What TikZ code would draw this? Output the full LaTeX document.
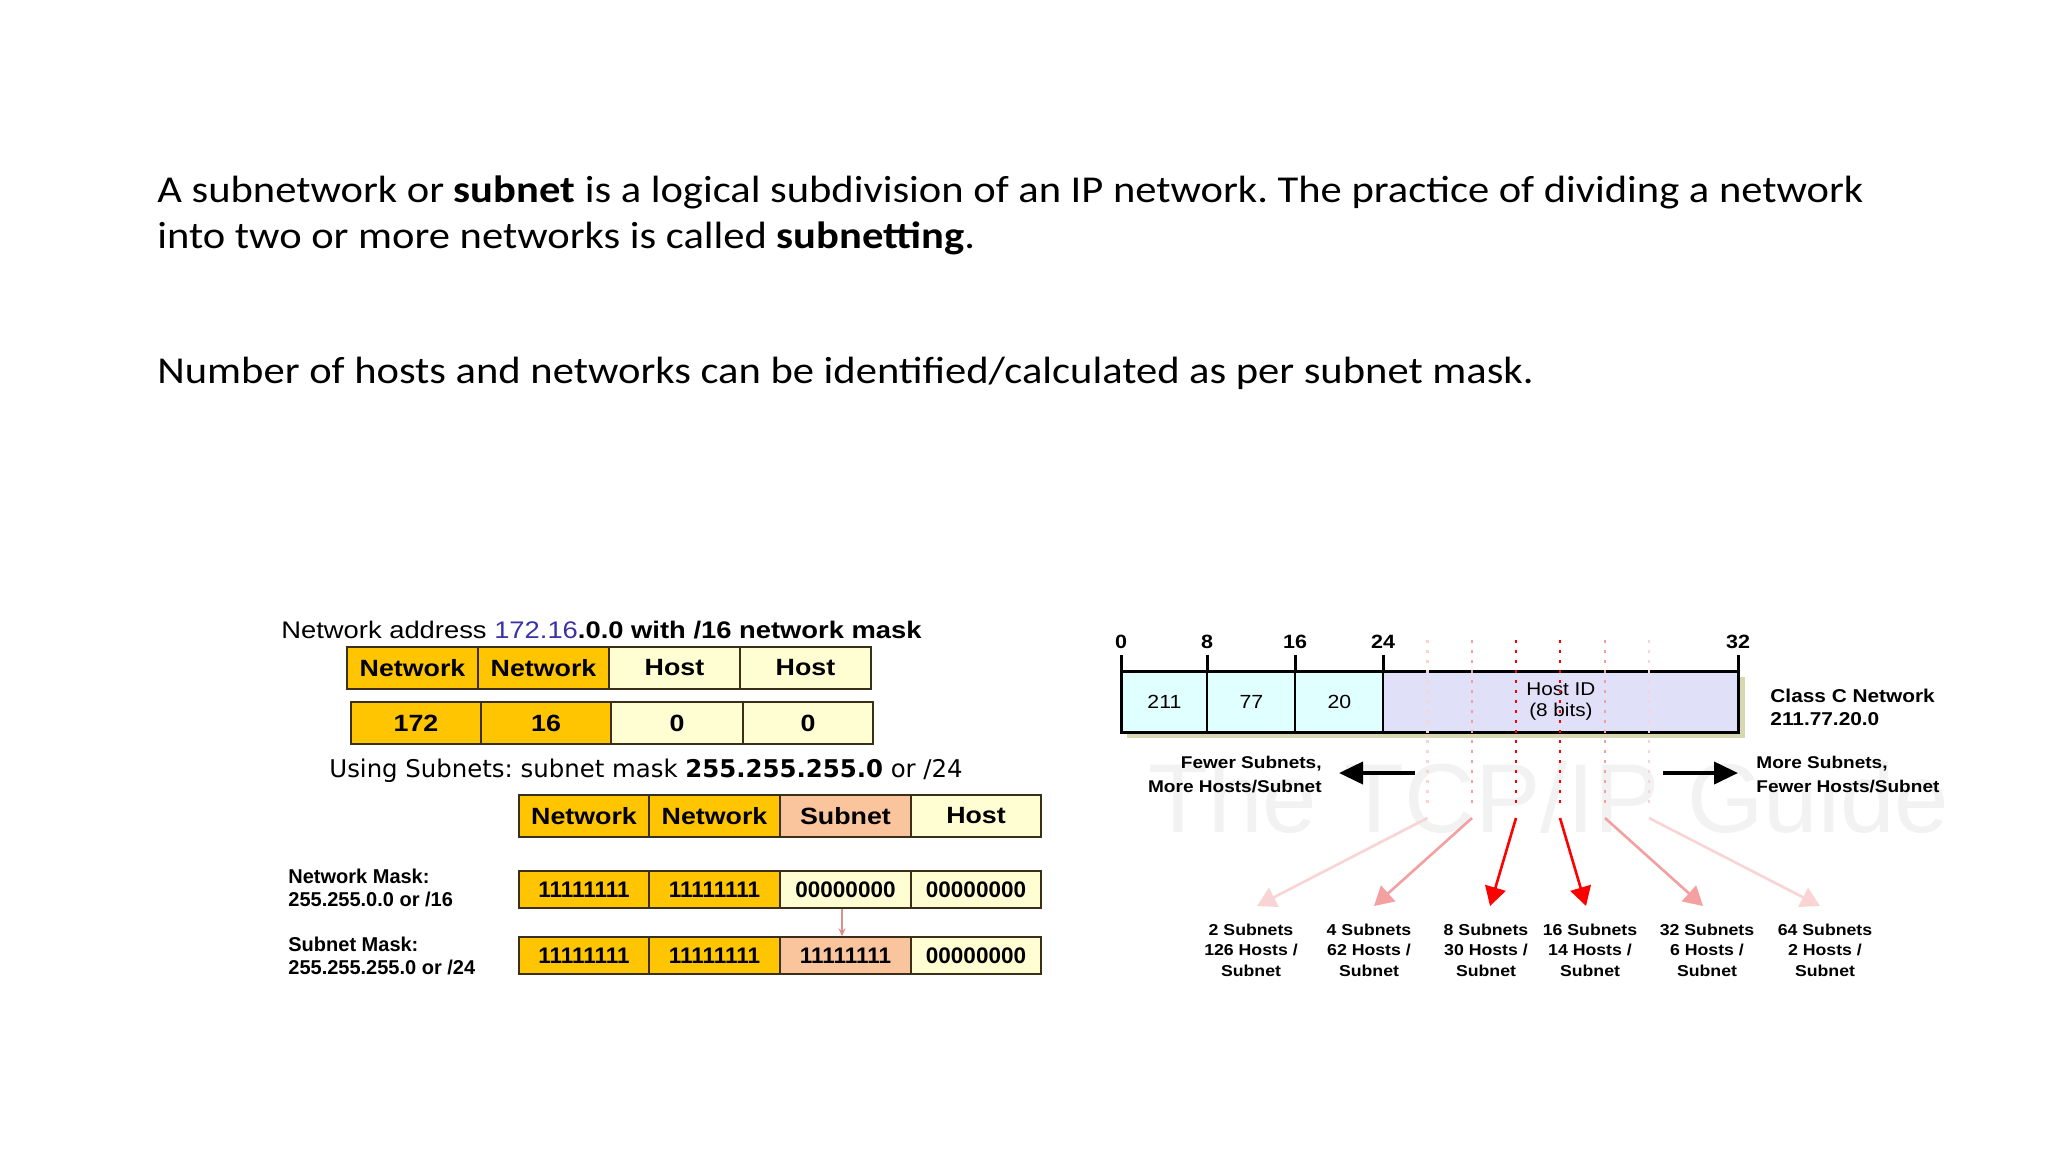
\documentclass[tikz,border=0pt]{standalone}
\usepackage{fontspec}
\setmainfont{Carlito}[FakeStretch=1.12]
\newfontfamily\lsw[FakeStretch=1.14]{Liberation Sans}
\newfontfamily\lsr[FakeStretch=1.12]{Liberation Sans}
\newfontfamily\lsp{Liberation Sans}
\newfontfamily\dvs{DejaVu Sans}
\usetikzlibrary{arrows.meta}
\definecolor{gold}{HTML}{FFC500}
\definecolor{lyel}{HTML}{FFFDD2}
\definecolor{peach}{HTML}{FAC59D}
\definecolor{cyanl}{HTML}{E0FFFF}
\definecolor{lav}{HTML}{E0E0F8}
\definecolor{khaki}{HTML}{D8D8B0}
\definecolor{blueT}{HTML}{3B32A8}
\definecolor{redA}{HTML}{FF0000}
\definecolor{redB}{HTML}{F4A0A0}
\definecolor{redC}{HTML}{FAD4D4}
\definecolor{wm}{HTML}{F2F2F2}
\definecolor{cellline}{HTML}{3C2F1A}
\frenchspacing
\begin{document}
\begin{tikzpicture}[x=0.5pt,y=-0.5pt,
  txt/.style={anchor=base west, inner sep=0pt},
  cellL/.style={draw=cellline, line width=0.75pt, inner sep=0pt, minimum height=21pt,
    font=\lsw\bfseries\fontsize{11.75pt}{14pt}\selectfont, text=black},
  cellM/.style={draw=cellline, line width=0.75pt, inner sep=0pt, minimum height=18.5pt,
    font=\lsp\bfseries\fontsize{11.25pt}{12pt}\selectfont, text=black},
  rcell/.style={inner sep=0pt, minimum height=30.5pt, font=\lsr\fontsize{9.5pt}{11pt}\selectfont},
  tick/.style={line width=1.5pt},
  ticklbl/.style={anchor=base, inner sep=0pt, font=\lsr\bfseries\fontsize{9.6pt}{11pt}\selectfont},
  rlbl/.style={inner sep=0pt, font=\lsr\bfseries\fontsize{8.5pt}{10pt}\selectfont},
  blbl/.style={anchor=base, inner sep=0pt, align=center, font=\lsr\bfseries\fontsize{7.9pt}{10.25pt}\selectfont},
  dotl/.style={line width=1.25pt, dash pattern=on 1.5pt off 3.5pt},
  bigarrow/.style={line width=2pt, -{Triangle[length=12pt,width=11pt]}},
  redarrow/.style={line width=1.3pt, -{Triangle[length=9.5pt,width=10.5pt]}}
]
\useasboundingbox (0,0) rectangle (2048,1152);
\fill[white] (0,0) rectangle (2048,1152);

% watermark
\node[txt, font=\lsp\fontsize{49pt}{58pt}\selectfont, text=wm] (wmark) at (1148,832) {The TCP/IP Guide};

% main text
\node[txt, font=\fontsize{19pt}{23pt}\selectfont] (p1) at (157,202) {A subnetwork or \textbf{subnet} is a logical subdivision of an IP network. The practice of dividing a network};
\node[txt, font=\fontsize{19pt}{23pt}\selectfont] (p2) at (157,248) {into two or more networks is called \textbf{subnetting}.};
\node[txt, font=\fontsize{19pt}{23pt}\selectfont] (p3) at (157,383) {Number of hosts and networks can be identified/calculated as per subnet mask.};

% ---------- left diagram ----------
\node[txt, font=\lsw\fontsize{12pt}{14pt}\selectfont] (title) at (281,638)
  {Network address \textcolor{blueT}{172.16}\textbf{.0.0 with /16 network mask}};

\node[cellL, fill=gold, minimum width=65.5pt] (r1a) at (412.5,668) {Network};
\node[cellL, fill=gold, minimum width=65.5pt] (r1b) at (543.5,668) {Network};
\node[cellL, fill=lyel, minimum width=65.5pt] (r1c) at (674.5,668) {Host};
\node[cellL, fill=lyel, minimum width=65.5pt] (r1d) at (805.5,668) {Host};

\node[cellL, fill=gold, minimum width=65pt] (r2a) at (416,723) {172};
\node[cellL, fill=gold, minimum width=65pt] (r2b) at (546,723) {16};
\node[cellL, fill=lyel, minimum width=66pt] (r2c) at (677,723) {0};
\node[cellL, fill=lyel, minimum width=65pt] (r2d) at (808,723) {0};

\node[txt, font=\dvs\fontsize{12.2pt}{14pt}\selectfont] (using) at (329,777)
  {Using Subnets: subnet mask \textbf{255.255.255.0} or /24};

\node[cellL, fill=gold, minimum width=65pt] (r3a) at (584,816) {Network};
\node[cellL, fill=gold, minimum width=65.5pt] (r3b) at (714.5,816) {Network};
\node[cellL, fill=peach, minimum width=65.5pt] (r3c) at (845.5,816) {Subnet};
\node[cellL, fill=lyel, minimum width=65pt] (r3d) at (976,816) {Host};

\node[txt, align=left, font=\lsp\bfseries\fontsize{10pt}{11.5pt}\selectfont] (nmask) at (288,906) {Network Mask:\\255.255.0.0 or /16};
\node[txt, align=left, font=\lsp\bfseries\fontsize{10pt}{11.5pt}\selectfont] (smask) at (288,974) {Subnet Mask:\\255.255.255.0 or /24};

\node[cellM, fill=gold, minimum width=65pt] (r4a) at (584,889.5) {11111111};
\node[cellM, fill=gold, minimum width=65.5pt] (r4b) at (714.5,889.5) {11111111};
\node[cellM, fill=lyel, minimum width=65.5pt] (r4c) at (845.5,889.5) {00000000};
\node[cellM, fill=lyel, minimum width=65pt] (r4d) at (976,889.5) {00000000};

\node[cellM, fill=gold, minimum width=65pt] (r5a) at (584,955.5) {11111111};
\node[cellM, fill=gold, minimum width=65.5pt] (r5b) at (714.5,955.5) {11111111};
\node[cellM, fill=peach, minimum width=65.5pt] (r5c) at (845.5,955.5) {11111111};
\node[cellM, fill=lyel, minimum width=65pt] (r5d) at (976,955.5) {00000000};

\draw[draw=redB!90!black, line width=0.6pt, -{Stealth[length=4pt,width=3.5pt]}] ([xshift=-1.75pt]r4c.south) -- ([xshift=-1.75pt]r5c.north);

% ---------- right diagram ----------
\fill[khaki] (1127,677) rectangle (1745,738);
\node[rcell, fill=cyanl, minimum width=43pt, anchor=north west] (c0) at (1121,671) {211};
\node[rcell, fill=cyanl, minimum width=44pt, anchor=north west] (c8) at (1207,671) {77};
\node[rcell, fill=cyanl, minimum width=44pt, anchor=north west] (c16) at (1295,671) {20};
\node[rcell, fill=lav, minimum width=177.5pt, anchor=north west, align=center,
      font=\lsr\fontsize{9.25pt}{10.5pt}\selectfont] (c24) at (1383,671) {Host ID\\(8 bits)};
\draw[line width=1.5pt] (1121,671) rectangle (1738,732);
\foreach \xx in {1207,1295,1383} \draw[line width=1.25pt] (\xx,671) -- (\xx,732);

\foreach \xx/\lab/\nm in {1121/0/t0,1207/8/t8,1295/16/t16,1383/24/t24,1738/32/t32}{
  \draw[tick] (\xx,655) -- (\xx,671);
  \node[ticklbl] (\nm) at (\xx,648) {\lab};
}

% dotted bit lines
\draw[dotl, redC] (1427.5,640) -- (1427.5,806);
\draw[dotl, redB] (1472,640) -- (1472,806);
\draw[dotl, redA] (1516,640) -- (1516,806);
\draw[dotl, redA] (1560,640) -- (1560,806);
\draw[dotl, redB] (1605,640) -- (1605,806);
\draw[dotl, redC] (1649,640) -- (1649,806);

\node[txt, font=\lsr\bfseries\fontsize{9.3pt}{11pt}\selectfont] (classc) at (1770,702) {Class C Network};
\node[txt, font=\lsr\bfseries\fontsize{9.3pt}{11pt}\selectfont] (classip) at (1770,725) {211.77.20.0};

\node[rlbl, anchor=base east] (fewer1) at (1322,768) {Fewer Subnets,};
\node[rlbl, anchor=base east] (fewer2) at (1322,792) {More Hosts/Subnet};
\node[rlbl, anchor=base west] (more1) at (1756,768) {More Subnets,};
\node[rlbl, anchor=base west] (more2) at (1756,792) {Fewer Hosts/Subnet};

\coordinate (la) at (1415,773);
\coordinate (lb) at (1339,773);
\coordinate (ra) at (1663,773);
\coordinate (rb) at (1738,773);
\draw[bigarrow] (la) -- (lb);
\draw[bigarrow] (ra) -- (rb);

% arrows to results
\coordinate (s1) at (1427.5,818); \coordinate (e1) at (1257,906);
\coordinate (s2) at (1472,818);   \coordinate (e2) at (1374,906);
\coordinate (s3) at (1516,818);   \coordinate (e3) at (1490,906);
\coordinate (s4) at (1560,818);   \coordinate (e4) at (1586,906);
\coordinate (s5) at (1605,818);   \coordinate (e5) at (1703,906);
\coordinate (s6) at (1649,818);   \coordinate (e6) at (1820,906);
\draw[redarrow, redC] (s1) -- (e1);
\draw[redarrow, redB] (s2) -- (e2);
\draw[redarrow, redA] (s3) -- (e3);
\draw[redarrow, redA] (s4) -- (e4);
\draw[redarrow, redB] (s5) -- (e5);
\draw[redarrow, redC] (s6) -- (e6);

\node[blbl] (b1) at (1251,976) {2 Subnets\\126 Hosts /\\Subnet};
\node[blbl] (b2) at (1369,976) {4 Subnets\\62 Hosts /\\Subnet};
\node[blbl] (b3) at (1486,976) {8 Subnets\\30 Hosts /\\Subnet};
\node[blbl] (b4) at (1590,976) {16 Subnets\\14 Hosts /\\Subnet};
\node[blbl] (b5) at (1707,976) {32 Subnets\\6 Hosts /\\Subnet};
\node[blbl] (b6) at (1825,976) {64 Subnets\\2 Hosts /\\Subnet};
\end{tikzpicture}
\end{document}
